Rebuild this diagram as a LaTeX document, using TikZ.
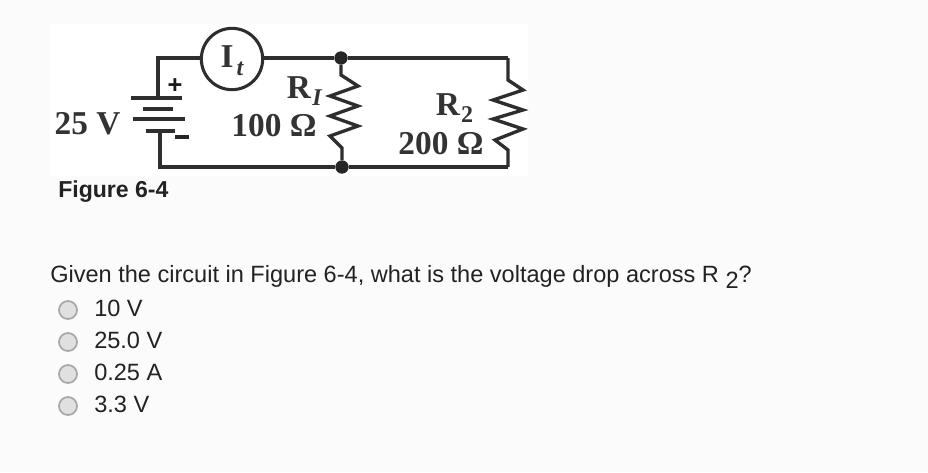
\documentclass[tikz,border=0pt]{standalone}
\usepackage{fontspec}
\setmainfont{Liberation Sans}
\newfontfamily\cserif{Liberation Serif}
\definecolor{pagebg}{HTML}{FBFBFB}
\definecolor{wirecol}{HTML}{2E2E2E}
\definecolor{txtcol}{HTML}{222222}
\definecolor{radiofill}{HTML}{E0E0E0}
\definecolor{radioline}{HTML}{A8A8A8}
\tikzset{
  wire/.style={draw=wirecol,line width=2.6pt,line join=miter},
  zig/.style={draw=wirecol,line width=2.5pt,line join=miter},
  plate/.style={draw=wirecol,line width=2.4pt},
  junction/.style={circle,fill=black!85,inner sep=0pt,minimum size=10pt},
  meter/.style={circle,draw=wirecol,line width=2.3pt,minimum size=46pt,inner sep=0pt,fill=white},
  clabel/.style={font=\cserif\bfseries\fontsize{25}{25}\selectfont,text=black!80,inner sep=0pt,anchor=base},
  csub/.style={font=\cserif\bfseries\fontsize{18}{18}\selectfont,text=black!80,inner sep=0pt,anchor=base},
  qtext/.style={font=\fontsize{17.66}{17.66}\selectfont,text=txtcol,inner sep=0pt,anchor=base west},
  radio/.style={circle,draw=radioline,line width=1.3pt,fill=radiofill,minimum size=13.5pt,inner sep=0pt}
}
\begin{document}
\begin{tikzpicture}[x=0.75pt,y=-0.75pt]
\useasboundingbox (0,0) rectangle (928,472);
\fill[pagebg] (0,0) rectangle (928,472);
\fill[white] (50,24) rectangle (528,176);

% anchors
\coordinate (tl) at (158,58);
\coordinate (bl) at (160,167);
\coordinate (tr) at (508,58);
\coordinate (br) at (508,167);
\coordinate (p1) at (158,98);
\coordinate (p4) at (160,131);
\node[meter] (ameter) at (232,59) {};
\node[junction] (jt) at (341,58) {};
\node[junction] (jb) at (342,167) {};

% wires
\draw[wire] (p1) -- (tl) -- (ameter.west |- tl);
\draw[wire] (ameter.east |- tl) -- (jt) -- (tr);
\draw[wire] (p4) -- (bl) -- (jb) -- (br);

% battery
\draw[plate] (131,98) -- (182,98);
\draw[plate] (143,109) -- (173,109);
\draw[plate] (133,119) -- (185,119);
\draw[plate] (146,131) -- (175,131);

% R1
\draw[zig] (jt) -- (341,75) -- (358,86) -- (330,96) -- (358,106) -- (330,116) -- (358,126) -- (330,136) -- (342,148) -- (jb);
% R2
\draw[zig] (tr) -- (508,80) -- (523,90) -- (493,100) -- (523,110) -- (493,119) -- (523,129) -- (495,140) -- (508,150) -- (br);

% circuit labels
\node[clabel] (vs) at (87.5,134) {25 V};
\node[font=\bfseries\fontsize{19}{19}\selectfont,text=black!90,inner sep=0pt] (plus) at (175,86) {+};
\node[fill=black!85,minimum width=10.5pt,minimum height=3pt,inner sep=0pt] (minus) at (182,137) {};
\node[clabel] (ilab) at (227,67) {I};
\node[csub] (isub) at (240,75) {\itshape t};
\node[clabel] (r1) at (299,98) {R};
\node[csub] (r1s) at (317,105) {\itshape I};
\node[clabel] (r1v) at (274,136) {100 Ω};
\node[clabel] (r2) at (448,115) {R};
\node[csub] (r2s) at (467,122) {2};
\node[clabel] (r2v) at (441,154) {200 Ω};

% text
\node[font=\bfseries\fontsize{17.3}{17.3}\selectfont,text=txtcol,inner sep=0pt,anchor=base west] (fig) at (58,197) {Figure 6-4};
\node[qtext] (q) at (50,282) {Given the circuit in Figure 6-4, what is the voltage drop across R \raisebox{-4.5pt}{2}?};

\node[radio] (ra) at (68,310) {};
\node[radio] (rb) at (68,342) {};
\node[radio] (rc) at (68,374) {};
\node[radio] (rd) at (68,406) {};
\node[qtext] (oa) at (94,316) {10 V};
\node[qtext] (ob) at (94,348) {25.0 V};
\node[qtext] (oc) at (94,380) {0.25 A};
\node[qtext] (od) at (94,412) {3.3 V};
\end{tikzpicture}
\end{document}
